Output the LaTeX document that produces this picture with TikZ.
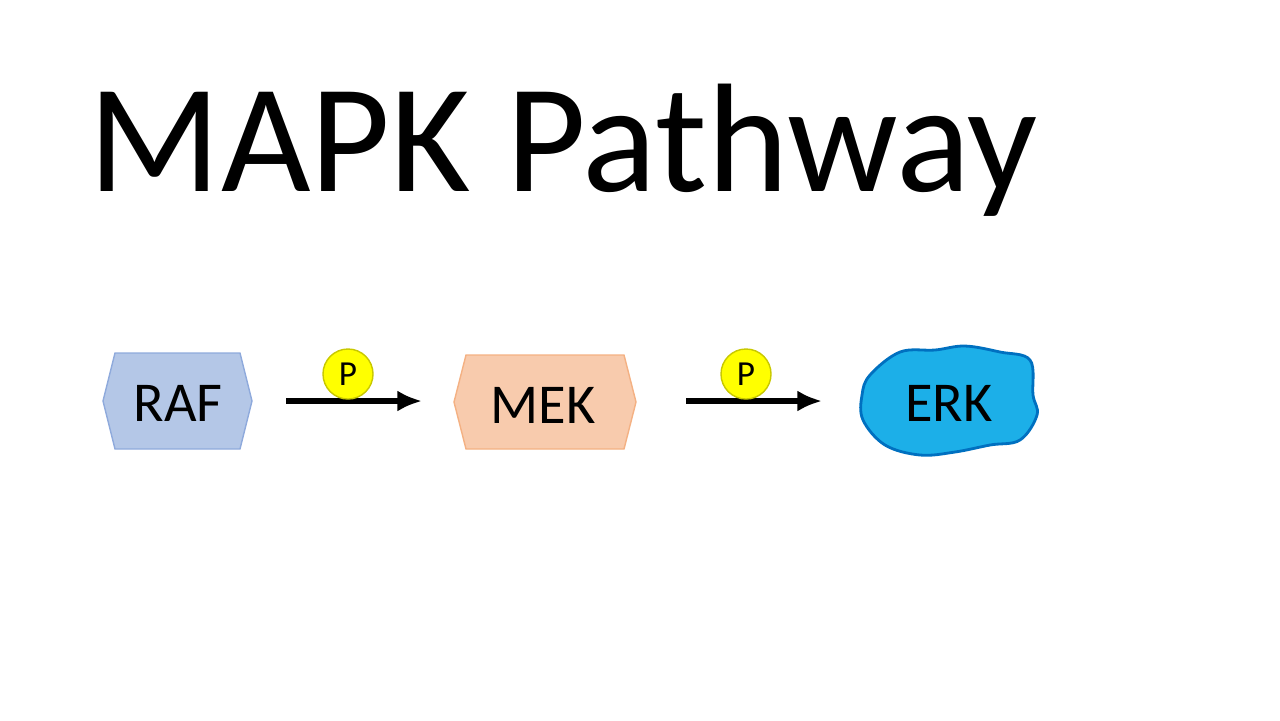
\documentclass[tikz,border=0pt]{standalone}
\usepackage{fontspec}
\setmainfont{Carlito}
\begin{document}
\begin{tikzpicture}[x=0.01cm,y=-0.01cm,
  lbl/.style={font=\fontsize{16}{18}\selectfont},
  pcirc/.style={circle,draw={rgb,255:red,200;green,200;blue,0},fill={rgb,255:red,255;green,255;blue,0},minimum size=0.5cm,inner sep=0pt,font=\fontsize{10}{12}\selectfont},
  arr/.style={line width=1.5pt,-{Latex[length=7pt,width=6pt]}}]
\usetikzlibrary{arrows.meta}
\useasboundingbox (0,0) rectangle (1280,720);
\node[anchor=west,inner sep=0pt,font=\fontsize{44}{50}\selectfont] (title) at (88,150) {MAPK Pathway};
% RAF
\draw[fill={rgb,255:red,180;green,199;blue,231},draw={rgb,255:red,143;green,170;blue,220}]
  (103,401)--(115,353)--(240,353)--(252,401)--(240,449)--(115,449)--cycle;
\node[lbl] (raf) at (178,403) {RAF};
% MEK
\draw[fill={rgb,255:red,248;green,203;blue,173},draw={rgb,255:red,244;green,177;blue,131}]
  (454,402)--(466,355)--(624,355)--(636,402)--(624,449)--(466,449)--cycle;
\node[lbl] (mek) at (543,405) {MEK};
% ERK blob
\draw[fill={rgb,255:red,28;green,175;blue,232},draw={rgb,255:red,0;green,112;blue,192},line width=0.8pt]
  plot[smooth cycle,tension=0.6] coordinates {(870,375) (900,352) (935,350) (965,346) (1000,352) (1030,360) (1033,395) (1037,415) (1020,440) (990,445) (955,452) (920,455) (885,445) (863,420) (862,395)};
\node[lbl] (erk) at (949,403) {ERK};
% arrows
\coordinate (a1s) at (286,401); \coordinate (a1e) at (422,401);
\coordinate (a2s) at (686,401); \coordinate (a2e) at (822,401);
\draw[arr] (a1s) -- (a1e);
\draw[arr] (a2s) -- (a2e);
\node[pcirc] (p1) at (348,374) {P};
\node[pcirc] (p2) at (746,374) {P};
\end{tikzpicture}
\end{document}
